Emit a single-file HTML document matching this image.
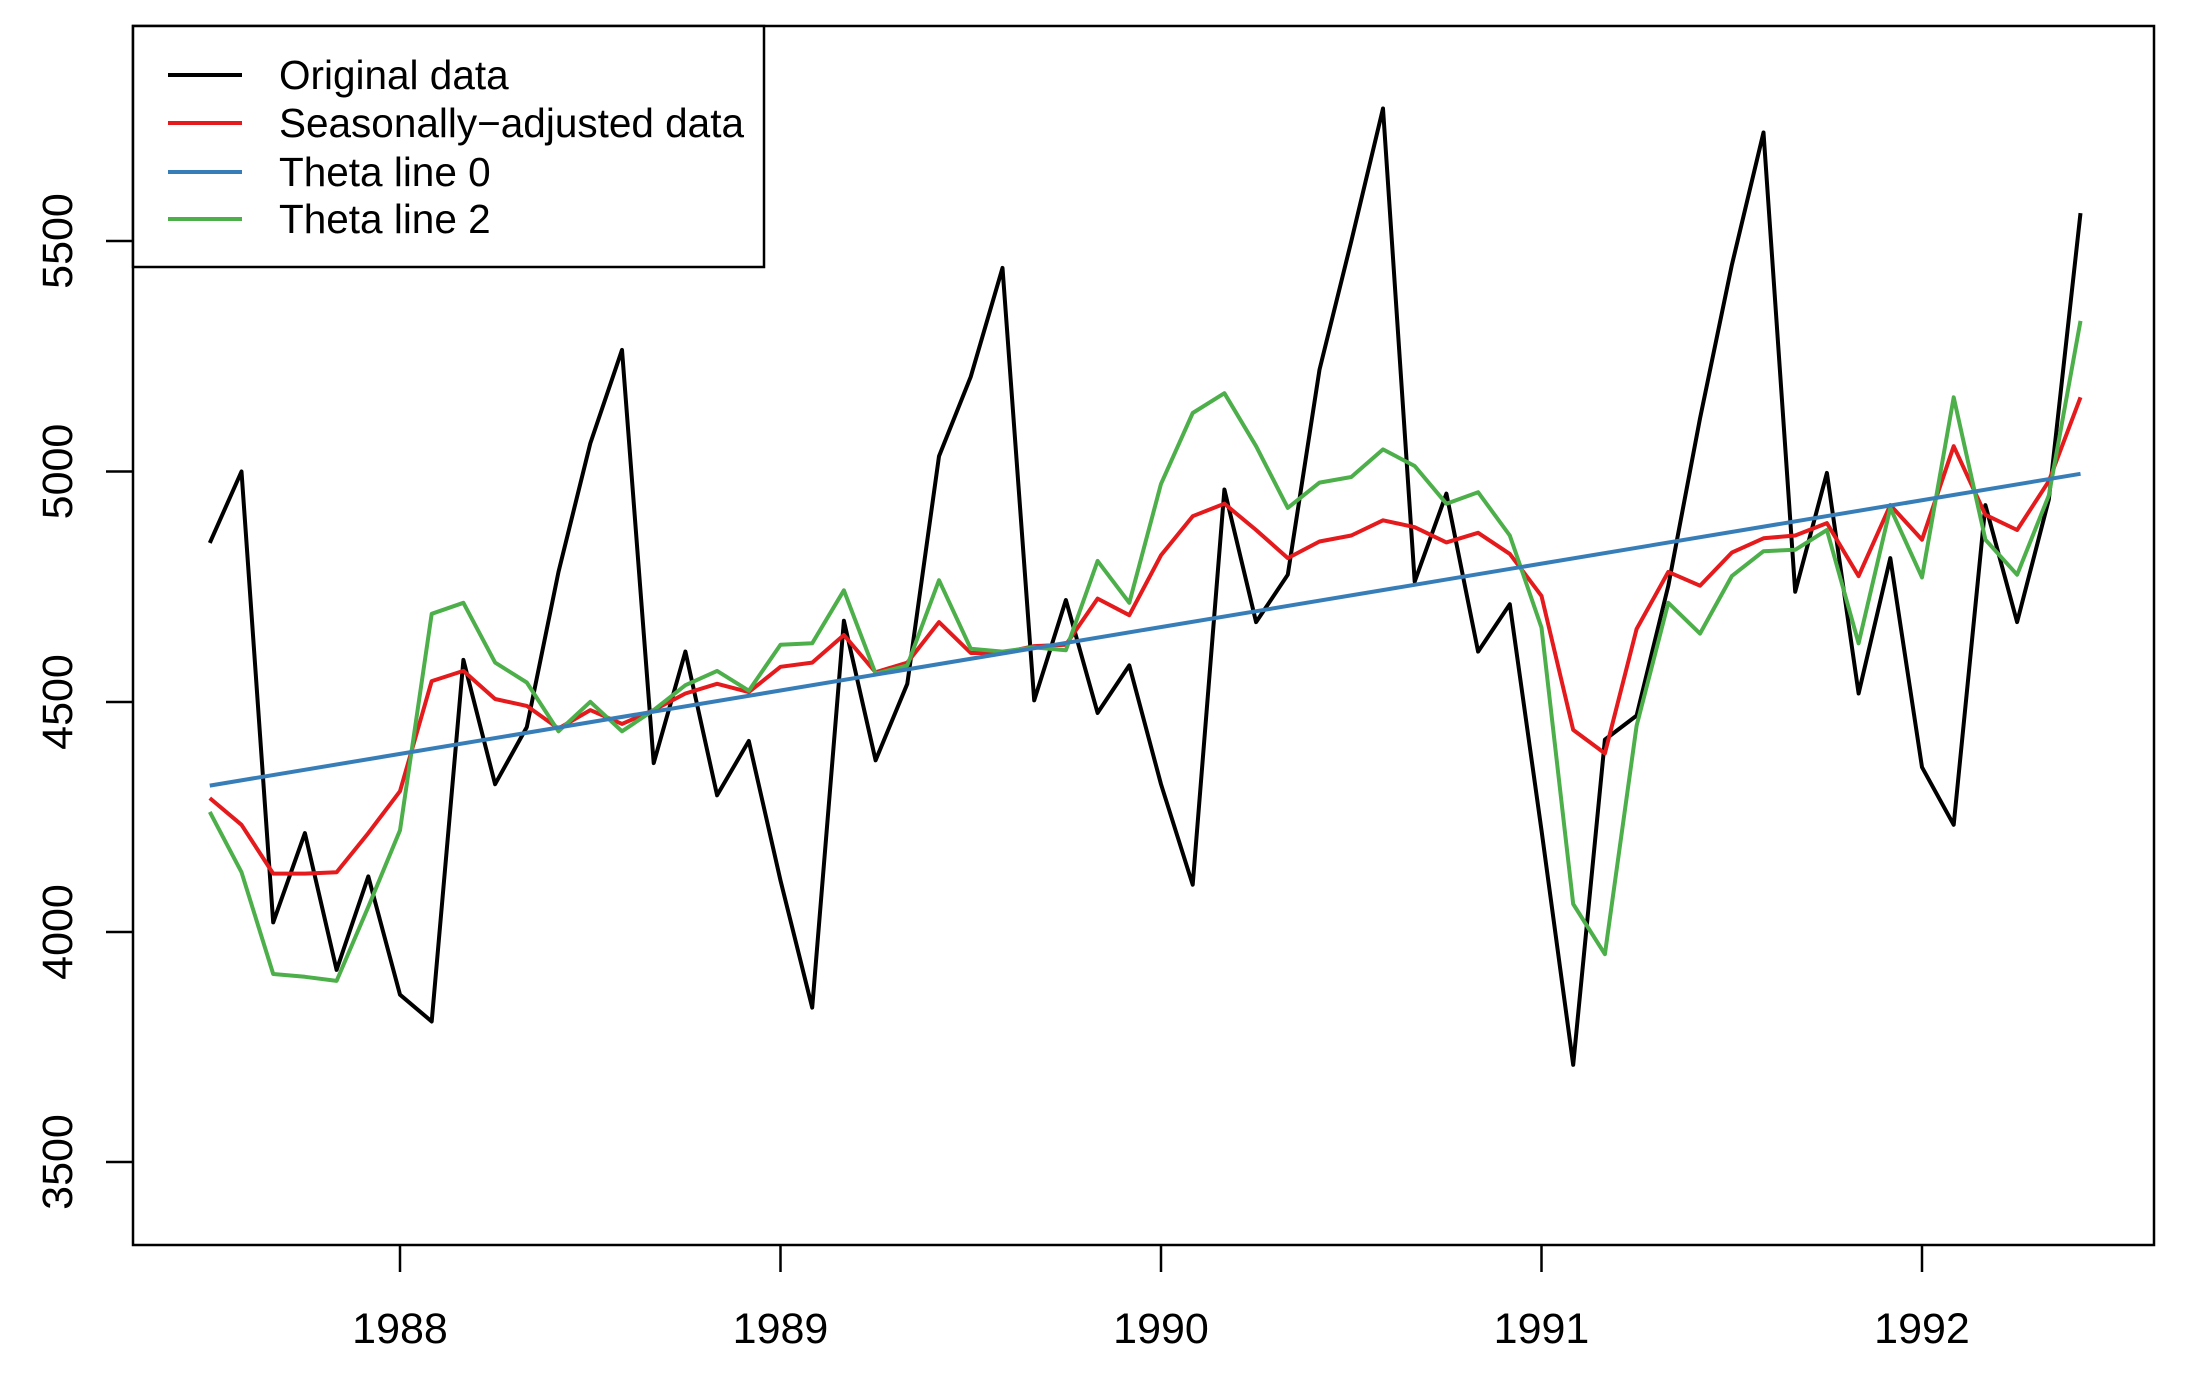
<!DOCTYPE html>
<html><head><meta charset="utf-8"><style>
html,body{margin:0;padding:0;background:#fff;}
svg{display:block;}
text{font-family:"Liberation Sans",Arial,sans-serif;fill:#000;}
</style></head><body>
<svg id="s" width="2186" height="1375" viewBox="0 0 2186 1375" xmlns="http://www.w3.org/2000/svg">
<rect x="133" y="26" width="2021" height="1219" fill="none" stroke="#000" stroke-width="2.5"/>
<g stroke="#000" stroke-width="2.5">
<line x1="106" y1="241" x2="133" y2="241"/>
<line x1="106" y1="471.5" x2="133" y2="471.5"/>
<line x1="106" y1="702" x2="133" y2="702"/>
<line x1="106" y1="932" x2="133" y2="932"/>
<line x1="106" y1="1162" x2="133" y2="1162"/>
<line x1="400" y1="1245" x2="400" y2="1272"/>
<line x1="780.5" y1="1245" x2="780.5" y2="1272"/>
<line x1="1161" y1="1245" x2="1161" y2="1272"/>
<line x1="1541.5" y1="1245" x2="1541.5" y2="1272"/>
<line x1="1922" y1="1245" x2="1922" y2="1272"/>
</g>
<g font-size="43" text-anchor="middle">
<text transform="translate(72,241) rotate(-90)">5500</text>
<text transform="translate(72,471.5) rotate(-90)">5000</text>
<text transform="translate(72,702) rotate(-90)">4500</text>
<text transform="translate(72,932) rotate(-90)">4000</text>
<text transform="translate(72,1162) rotate(-90)">3500</text>
<text x="400" y="1343">1988</text>
<text x="780.5" y="1343">1989</text>
<text x="1161" y="1343">1990</text>
<text x="1541.5" y="1343">1991</text>
<text x="1922" y="1343">1992</text>
</g>
<g id="series"></g>
<rect x="133" y="26" width="631" height="241" fill="#fff" stroke="#000" stroke-width="2.5"/>
<g stroke-width="4">
<line x1="168" y1="75" x2="242" y2="75" stroke="#000"/>
<line x1="168" y1="123" x2="242" y2="123" stroke="#E41A1C"/>
<line x1="168" y1="172" x2="242" y2="172" stroke="#377EB8"/>
<line x1="168" y1="219" x2="242" y2="219" stroke="#4DAF4A"/>
</g>
<g font-size="40.5">
<text x="279" y="89">Original data</text>
<text x="279" y="137">Seasonally−adjusted data</text>
<text x="279" y="186">Theta line 0</text>
<text x="279" y="233">Theta line 2</text>
</g>
</svg>
<script>
var orig=[4845,5000,4021,4215,3918,4121,3864,3806,4591,4321,4445,4782,5061,5264,4367,4609,4297,4415,4112,3836,4676,4373,4539,5033,5206,5442,4503,4721,4476,4579,4321,4103,4961,4673,4776,5221,5500,5788,4761,4952,4609,4712,4221,3712,4418,4470,4752,5115,5448,5736,4739,4997,4518,4812,4358,4233,4927,4673,4939,5561];
var sa=[4291,4233,4127,4127,4130,4215,4306,4545,4567,4506,4491,4442,4482,4452,4482,4518,4539,4521,4576,4585,4645,4564,4585,4673,4606,4606,4621,4624,4724,4688,4818,4903,4930,4873,4812,4848,4861,4894,4879,4846,4867,4821,4730,4439,4388,4658,4782,4752,4824,4855,4861,4888,4773,4927,4852,5055,4906,4873,4979,5161];
var gr=[4261,4130,3909,3903,3894,4055,4221,4691,4715,4585,4542,4436,4500,4436,4482,4536,4567,4524,4624,4627,4742,4561,4579,4764,4615,4609,4618,4612,4806,4715,4973,5127,5170,5055,4921,4976,4988,5048,5012,4930,4955,4861,4661,4061,3952,4448,4715,4648,4773,4827,4830,4873,4627,4921,4770,5161,4852,4776,4948,5327];
function X(i){return 400+(-0.5+i/12)*380.5;}
function Y(v){return 471.5+(5000-v)*0.4606;}
function pl(d,c){return '<polyline fill="none" stroke="'+c+'" stroke-width="4" stroke-linejoin="round" points="'+d.map(function(v,i){return X(i).toFixed(1)+','+Y(v).toFixed(1);}).join(' ')+'"/>';}
var h=pl(orig,'#000')+pl(sa,'#E41A1C')+pl(gr,'#4DAF4A');
h+='<line x1="'+X(0)+'" y1="'+Y(4318)+'" x2="'+X(59)+'" y2="'+Y(4995)+'" stroke="#377EB8" stroke-width="4"/>';
document.getElementById('series').innerHTML=h;
</script>
</body></html>
